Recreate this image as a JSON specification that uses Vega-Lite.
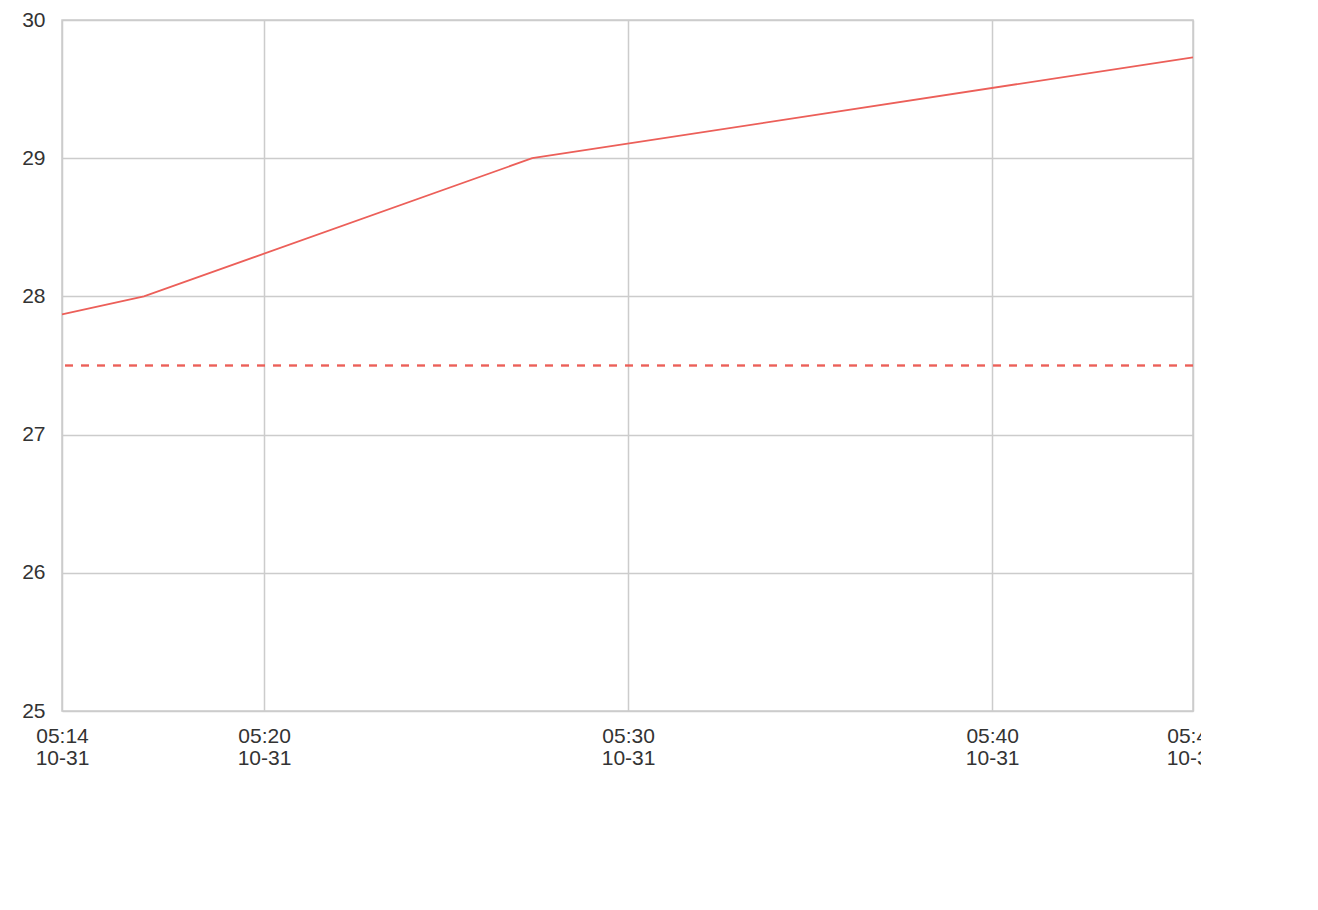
{
  "$schema": "https://vega.github.io/schema/vega-lite/v6.json",
  "autosize": {"type": "none"},
  "width": 1131,
  "height": 691,
  "padding": {"left": 62, "top": 20, "right": 8, "bottom": 199},
  "background": "white",
  "config": {
    "view": {"stroke": "#cccccc", "strokeWidth": 1.5},
    "font": "Liberation Sans",
    "axis": {
      "labelFont": "Liberation Sans",
      "labelFontSize": 21,
      "labelColor": "#333333",
      "gridColor": "#cccccc",
      "gridWidth": 1.5,
      "gridOpacity": 1,
      "domain": false,
      "ticks": false,
      "title": null
    }
  },
  "data": {
    "values": [
      {"time": "2023-10-31T05:14:27Z", "value": 27.87},
      {"time": "2023-10-31T05:16:42Z", "value": 28.0},
      {"time": "2023-10-31T05:27:22Z", "value": 29.0},
      {"time": "2023-10-31T05:45:31Z", "value": 29.73}
    ]
  },
  "layer": [
    {
      "mark": {"type": "line", "color": "#ec5f59", "strokeWidth": 1.8},
      "encoding": {
        "x": {
          "field": "time",
          "type": "temporal",
          "scale": {
            "type": "utc",
            "domain": [
              {"year": 2023, "month": 10, "date": 31, "hours": 5, "minutes": 14, "seconds": 27, "utc": true},
              {"year": 2023, "month": 10, "date": 31, "hours": 5, "minutes": 45, "seconds": 31, "utc": true}
            ],
            "nice": false
          },
          "axis": {
            "values": [
              {"year": 2023, "month": 10, "date": 31, "hours": 5, "minutes": 14, "seconds": 27, "utc": true},
              {"year": 2023, "month": 10, "date": 31, "hours": 5, "minutes": 20, "utc": true},
              {"year": 2023, "month": 10, "date": 31, "hours": 5, "minutes": 30, "utc": true},
              {"year": 2023, "month": 10, "date": 31, "hours": 5, "minutes": 40, "utc": true},
              {"year": 2023, "month": 10, "date": 31, "hours": 5, "minutes": 45, "seconds": 31, "utc": true}
            ],
            "labelExpr": "[utcFormat(datum.value, '%H:%M'), utcFormat(datum.value, '%m-%d')]",
            "labelLineHeight": 22,
            "labelBaseline": "top",
            "labelPadding": 14,
            "labelAlign": "center",
            "labelOverlap": false,
            "labelFlush": false,
            "labelBound": false
          }
        },
        "y": {
          "field": "value",
          "type": "quantitative",
          "scale": {"domain": [25, 30], "nice": false, "zero": false},
          "axis": {
            "values": [25, 26, 27, 28, 29, 30],
            "format": "d",
            "labelPadding": 17,
            "labelBaseline": "middle"
          }
        }
      }
    },
    {
      "mark": {"type": "rule", "color": "#ec5f59", "strokeWidth": 1.5, "strokeDash": [8, 8]},
      "encoding": {
        "y": {"datum": 27.5}
      }
    }
  ]
}
